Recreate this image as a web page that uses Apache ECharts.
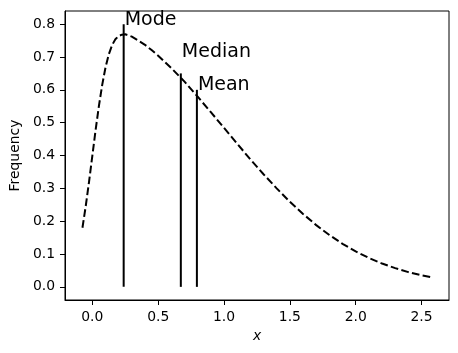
<!DOCTYPE html>
<html>
<head>
<meta charset="utf-8">
<script src="https://cdn.jsdelivr.net/npm/echarts@6/dist/echarts.min.js"></script>
<style>
html,body{margin:0;padding:0;background:#fff;}
#chart{width:458px;height:353px;}
</style>
</head>
<body>
<div id="chart"></div>
<script>
// Curve (x, frequency)
const curveX = [-0.075, -0.05, -0.025, 0, 0.025, 0.05, 0.075, 0.1, 0.125, 0.15, 0.175, 0.2, 0.225, 0.25, 0.275, 0.3, 0.35, 0.4, 0.45, 0.5, 0.6, 0.7, 0.8, 0.9, 1.0, 1.1, 1.2, 1.3, 1.4, 1.5, 1.6, 1.7, 1.8, 1.9, 2.0, 2.1, 2.2, 2.3, 2.4, 2.5, 2.576];
const curveY = [0.180, 0.246, 0.320, 0.399, 0.478, 0.551, 0.615, 0.668, 0.708, 0.736, 0.754, 0.764, 0.768, 0.769, 0.766, 0.762, 0.750, 0.737, 0.721, 0.704, 0.666, 0.625, 0.579, 0.532, 0.484, 0.436, 0.388, 0.343, 0.300, 0.259, 0.222, 0.188, 0.158, 0.131, 0.108, 0.088, 0.071, 0.057, 0.045, 0.035, 0.029];

// Statistics markers
const statNames = ['Mode', 'Median', 'Mean'];
const statX = [0.238, 0.672, 0.794];
const statTop = [0.8, 0.65, 0.6];
const labelY = [0.8, 0.7, 0.6];

// Tick labels
const xTicks = [0, 0.5, 1.0, 1.5, 2.0, 2.5];
const yTicks = [0, 0.1, 0.2, 0.3, 0.4, 0.5, 0.6, 0.7, 0.8];

const FONT = 'DejaVu Sans';
const chart = echarts.init(document.getElementById('chart'), null, {renderer: 'canvas'});

const series = [];
series.push({
  type: 'line',
  data: curveX.map((x, i) => [x, curveY[i]]),
  showSymbol: false,
  symbol: 'none',
  lineStyle: {color: '#000', width: 2, type: [7.7, 3.3]},
  animation: false,
  z: 3
});
statX.forEach((x, i) => {
  series.push({
    type: 'line',
    data: [[x, 0], [x, statTop[i]]],
    symbol: 'none',
    lineStyle: {color: '#000', width: 2},
    animation: false,
    z: 2
  });
});
series.push({
  type: 'scatter',
  data: statX.map((x, i) => ({value: [x, labelY[i]], name: statNames[i]})),
  symbolSize: 0,
  itemStyle: {color: '#000', opacity: 1},
  label: {
    show: true,
    position: [0, 0],
    align: 'left',
    verticalAlign: 'bottom',
    offset: [1, 5],
    formatter: p => p.name,
    fontFamily: FONT,
    fontSize: 19,
    color: '#000',
    textBorderWidth: 0,
    opacity: 1
  },
  animation: false,
  silent: true,
  z: 4
});

chart.setOption({
  backgroundColor: '#fff',
  animation: false,
  grid: {left: 61, right: 9, top: 11, bottom: 53, show: true, borderColor: '#000', borderWidth: 1, backgroundColor: 'transparent'},
  xAxis: {
    type: 'value',
    min: -0.2076,
    max: 2.7084,
    name: 'x',
    nameLocation: 'middle',
    nameGap: 27,
    nameTextStyle: {fontFamily: FONT, fontSize: 13.9, fontStyle: 'italic', color: '#000'},
    axisLine: {show: true, onZero: false, lineStyle: {color: '#000', width: 1}},
    axisTick: {show: true, length: 5, lineStyle: {color: '#000', width: 1}, customValues: xTicks},
    axisLabel: {
      fontFamily: FONT, fontSize: 13.9, color: '#000', margin: 10,
      customValues: xTicks,
      formatter: v => v.toFixed(1)
    },
    splitLine: {show: false}
  },
  yAxis: {
    type: 'value',
    min: -0.04,
    max: 0.84,
    name: 'Frequency',
    nameLocation: 'middle',
    nameGap: 40,
    nameTextStyle: {fontFamily: FONT, fontSize: 13.9, color: '#000'},
    axisLine: {show: true, onZero: false, lineStyle: {color: '#000', width: 1}},
    axisTick: {show: true, length: 5, lineStyle: {color: '#000', width: 1}, customValues: yTicks},
    axisLabel: {
      fontFamily: FONT, fontSize: 13.9, color: '#000', margin: 10,
      customValues: yTicks,
      formatter: v => v.toFixed(1)
    },
    splitLine: {show: false}
  },
  series: series
});
</script>
</body>
</html>
